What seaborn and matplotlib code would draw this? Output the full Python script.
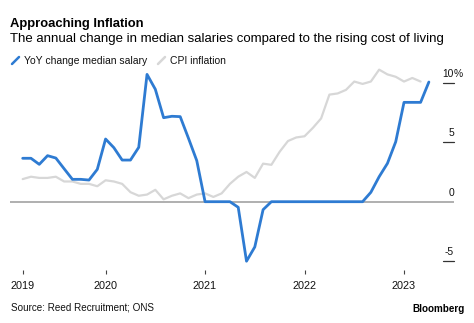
import numpy as np
import pandas as pd
import matplotlib
matplotlib.use("Agg")
import matplotlib.pyplot as plt
import matplotlib.transforms as mtransforms
from matplotlib.lines import Line2D
import seaborn as sns

# ---- data (monthly, Mar 2019 - Apr 2023) ----
months = pd.period_range("2019-03", "2023-04", freq="M").strftime("%Y-%m").tolist()
salary = [3.65, 3.65, 3.14, 3.87, 3.67, 2.77, 1.88, 1.88, 1.82, 2.72,
          5.27, 4.54, 3.5, 3.5, 4.57, 10.7, 9.45, 7.06, 7.18, 7.15,
          5.33, 3.45, 0, 0, 0, 0, -0.47, -5.0, -3.8, -0.67,
          0, 0, 0, 0, 0, 0, 0, 0, 0, 0, 0, 0,
          0.79, 2.1, 3.22, 5.04, 8.35, 8.35, 8.35, 10.06]
cpi = [1.9, 2.1, 2.0, 2.0, 2.1, 1.7, 1.7, 1.5, 1.5, 1.3,
       1.8, 1.7, 1.5, 0.8, 0.5, 0.6, 1.0, 0.2, 0.5, 0.7, 0.3, 0.6,
       0.7, 0.4, 0.7, 1.5, 2.1, 2.5, 2.0, 3.2, 3.1, 4.2, 5.1, 5.4,
       5.5, 6.2, 7.0, 9.0, 9.1, 9.4, 10.1, 9.9, 10.1, 11.1, 10.7, 10.5,
       10.1, 10.4, 10.1]
year_tick_pos = [0, 10, 22, 34, 46]
year_labels = ["2019", "2020", "2021", "2022", "2023"]
y_ticks = [10, 5, 0, -5]
y_labels = ["10", "5", "0", "-5"]
series_names = ["YoY change median salary", "CPI inflation"]

BLUE = "#2e7bd2"
GRAY = "#d7d7d7"

sns.set_theme(style="white")
plt.rcParams["font.family"] = ["Liberation Sans", "DejaVu Sans"]

idx = list(range(len(months)))
df = pd.concat([
    pd.DataFrame({"i": idx, "value": salary, "series": series_names[0]}),
    pd.DataFrame({"i": idx[:len(cpi)], "value": cpi, "series": series_names[1]}),
])

fig = plt.figure(figsize=(4.74, 3.23), dpi=100)
W, H = 474, 323
ax_left, ax_right, ax_top, ax_bot = 10, 454, 65, 270
ax = fig.add_axes([ax_left / W, (H - ax_bot) / H, (ax_right - ax_left) / W, (ax_bot - ax_top) / H])

ax.axhline(0, color="#9a9a9a", lw=1.1, zorder=1)
sns.lineplot(data=df, x="i", y="value", hue="series", hue_order=series_names[::-1],
             palette={series_names[0]: BLUE, series_names[1]: GRAY},
             legend=False, ax=ax, lw=2.0, zorder=3)
for line in ax.lines[1:]:
    if matplotlib.colors.to_hex(line.get_color()) == GRAY:
        line.set_linewidth(1.6)
        line.set_zorder(2)

ax.set_xlim(-1.53, 52.03)
ax.set_ylim(-5.74, 11.49)
for s in ax.spines.values():
    s.set_visible(False)
ax.set_xlabel("")
ax.set_ylabel("")
ax.set_yticks([])
ax.set_xticks(year_tick_pos)
ax.set_xticklabels(year_labels)
ax.tick_params(axis="x", bottom=True, length=3, width=0.8, color="#444444",
               labelsize=7.8, pad=5, labelcolor="#111111")

# right-side value labels with short dashes
trans = mtransforms.blended_transform_factory(ax.transAxes, ax.transData)
dash_start = (443 - ax_left) / (ax_right - ax_left)
for v, lab in zip(y_ticks, y_labels):
    if v != 0:
        ax.plot([dash_start, 1.0], [v, v], transform=trans, color="#333333", lw=0.9,
                clip_on=False, zorder=4)
    off = mtransforms.offset_copy(trans, fig=fig, x=0, y=4, units="dots")
    ax.text(1.0, v, lab, transform=off, ha="right", va="bottom", fontsize=7.4, color="#111111")
    if lab == "10":
        ax.text(1.0, v, "%", transform=off, ha="left", va="bottom", fontsize=7.4, color="#111111")

# titles
def fy(py):
    return 1 - py / H

fig.text(10 / W, fy(26.5), "Approaching Inflation", fontsize=9.4, fontweight="bold",
         va="baseline", ha="left", color="#000000")
fig.text(10 / W, fy(42), "The annual change in median salaries compared to the rising cost of living",
         fontsize=9.5, va="baseline", ha="left", color="#000000")

# legend
fig.add_artist(Line2D([12 / W, 19 / W], [fy(64), fy(57)], color=BLUE, lw=1.8))
fig.text(24 / W, fy(63.5), series_names[0], fontsize=7.5, va="baseline", ha="left", color="#111111")
fig.add_artist(Line2D([158 / W, 165 / W], [fy(64), fy(57)], color=GRAY, lw=1.8))
fig.text(170 / W, fy(63.5), series_names[1], fontsize=7.5, va="baseline", ha="left", color="#111111")

# footer
fig.text(11 / W, fy(311), "Source: Reed Recruitment; ONS", fontsize=7.1, va="baseline",
         ha="left", color="#111111")
fig.text(465 / W, fy(312), "Bloomberg", fontsize=7.1, fontweight="bold", va="baseline",
         ha="right", color="#000000")

fig.savefig("out.png", dpi=100)
